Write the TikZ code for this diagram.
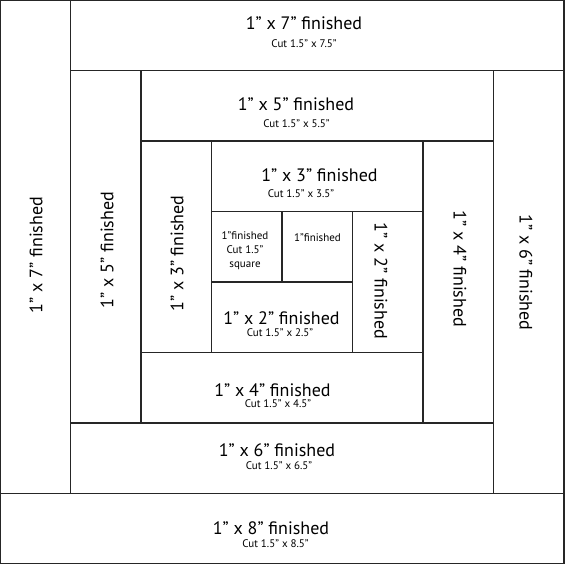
\documentclass[tikz,border=0pt]{standalone}
\usepackage{fontspec}
\setmainfont{PT Sans}
\begin{document}
\begin{tikzpicture}[x=1pt,y=-1pt,
  patch/.style={draw=black!85,line width=1.2pt},
  big/.style={font=\fontsize{18}{20}\selectfont,inner sep=0pt},
  small/.style={font=\fontsize{11}{14}\selectfont,inner sep=0pt,align=center},
]
  \useasboundingbox (0,0) rectangle (564,564);
  % strips, from the outside in
  \draw[patch] (0.6,0.6) rectangle (563.4,563.4);
  \draw[patch] (0,493.5) rectangle (564,564);       % 1x8
  \draw[patch] (0,0) rectangle (70.5,493.5);        % left 1x7
  \draw[patch] (70.5,0) rectangle (564,70.5);       % top 1x7
  \draw[patch] (493.5,70.5) rectangle (564,493.5);  % 1x6 right
  \draw[patch] (70.5,423) rectangle (493.5,493.5);  % 1x6 bottom
  \draw[patch] (70.5,70.5) rectangle (141,423);     % 1x5 left
  \draw[patch] (141,70.5) rectangle (493.5,141);    % 1x5 top
  \draw[patch] (423,141) rectangle (493.5,423);     % 1x4 right
  \draw[patch] (141,352.5) rectangle (423,423);     % 1x4 bottom
  \draw[patch] (141,141) rectangle (211.5,352.5);   % 1x3 left
  \draw[patch] (211.5,141) rectangle (423,211.5);   % 1x3 top
  \draw[patch] (352.5,211.5) rectangle (423,352.5); % 1x2 right
  \draw[patch] (211.5,282) rectangle (352.5,352.5); % 1x2 bottom
  \draw[patch] (211.5,211.5) rectangle (282,282);   % center squares
  \draw[patch] (282,211.5) rectangle (352.5,282);

  % horizontal labels
  \node[big] (top7) at (304,23.5) {1” x 7” finished};
  \node[small] (top7cut) at (304,43.5) {Cut 1.5” x 7.5”};
  \node[big] (top5) at (296,104) {1” x 5” finished};
  \node[small] (top5cut) at (296.5,124) {Cut 1.5” x 5.5”};
  \node[big] (top3) at (319.5,175.5) {1” x 3” finished};
  \node[small] (top3cut) at (301,194) {Cut 1.5” x 3.5”};
  \node[big] (bot2) at (281.5,318.5) {1” x 2” finished};
  \node[small] (bot2cut) at (280,333) {Cut 1.5” x 2.5”};
  \node[big] (bot4) at (272.5,390) {1” x 4” finished};
  \node[small] (bot4cut) at (278,404) {Cut 1.5” x 4.5”};
  \node[big] (bot6) at (277,450) {1” x 6” finished};
  \node[small] (bot6cut) at (279,465.5) {Cut 1.5” x 6.5”};
  \node[big] (bot8) at (271,528) {1” x 8” finished};
  \node[small] (bot8cut) at (275.5,543.5) {Cut 1.5” x 8.5”};

  % vertical labels
  \node[big,rotate=90] (left7) at (36,255) {1” x 7” finished};
  \node[big,rotate=90] (left5) at (107,250) {1” x 5” finished};
  \node[big,rotate=90] (left3) at (177,253.5) {1” x 3” finished};
  \node[big,rotate=-90] (right2) at (381,281) {1” x 2” finished};
  \node[big,rotate=-90] (right4) at (460,269) {1” x 4” finished};
  \node[big,rotate=-90] (right6) at (526,272.5) {1” x 6” finished};

  % center squares
  \node[small] (sqA) at (245,251) {1”finished\\Cut 1.5”\\square};
  \node[small] (sqB) at (317.5,238) {1”finished};
\end{tikzpicture}
\end{document}
